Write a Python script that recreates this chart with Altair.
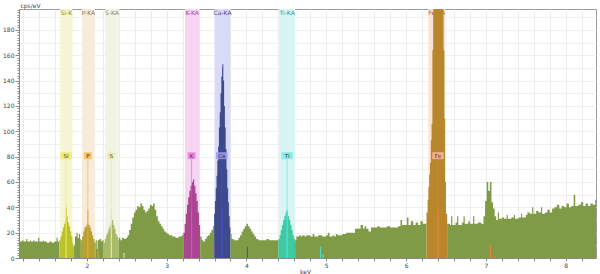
import altair as alt
import pandas as pd

# ---------------- data ----------------
# spectrum steps: start energy (keV) and count (cps/eV); last step ends at END_KEV
step_kev = [
    1.15, 1.165, 1.19, 1.205, 1.24, 1.255, 1.29, 1.30, 1.33, 1.345, 1.39, 1.405, 1.45, 1.46, 1.50, 1.53, 1.56, 1.59, 1.62, 1.635,
    1.655, 1.67, 1.685, 1.70, 1.715, 1.73, 1.74, 1.75, 1.76, 1.775, 1.79, 1.805, 1.82, 1.83,
    1.84, 1.85, 1.87, 1.885, 1.90, 1.915,
    1.925, 1.94, 1.955, 1.97, 1.985, 2.00, 2.02, 2.035, 2.05, 2.065, 2.08, 2.095,
    2.11, 2.125, 2.135, 2.16, 2.18, 2.195,
    2.21, 2.225, 2.24, 2.255, 2.27, 2.285, 2.30, 2.315, 2.33, 2.345, 2.36, 2.375, 2.39,
    2.40, 2.42, 2.44, 2.465, 2.49, 2.51, 2.53, 2.55, 2.57, 2.59, 2.61, 2.63, 2.65, 2.67, 2.69, 2.71, 2.73, 2.75,
    2.77, 2.79, 2.81, 2.83, 2.85, 2.87, 2.89, 2.91, 2.93, 2.95, 2.97, 2.99, 3.01, 3.03, 3.07, 3.11, 3.15, 3.19,
    3.21, 3.225, 3.24, 3.255, 3.27, 3.285, 3.30, 3.315, 3.33, 3.345, 3.36, 3.375, 3.39, 3.405,
    3.42, 3.44, 3.46, 3.48, 3.50, 3.52, 3.54, 3.56, 3.58,
    3.595, 3.605, 3.615, 3.625, 3.635, 3.645, 3.655, 3.665, 3.675, 3.685, 3.695, 3.70, 3.71, 3.72, 3.73, 3.74,
    3.75, 3.76, 3.77, 3.78, 3.79,
    3.80, 3.815, 3.84, 3.87, 3.90, 3.92, 3.94, 3.96, 3.98, 4.00, 4.02, 4.04, 4.06, 4.08, 4.10, 4.12, 4.15, 4.20,
    4.25, 4.28, 4.35,
    4.40, 4.415, 4.43, 4.445, 4.46, 4.475, 4.49, 4.505, 4.52, 4.535, 4.55, 4.565, 4.58, 4.595,
    4.61, 4.625, 4.66, 4.68, 4.70, 4.73, 4.75, 4.80, 4.83, 4.85, 4.90, 4.95, 5.00, 5.02, 5.04, 5.08, 5.10, 5.12,
    5.14, 5.20, 5.25, 5.30, 5.36, 5.40, 5.43, 5.46, 5.48, 5.50, 5.53, 5.56, 5.60, 5.64, 5.67, 5.72, 5.76, 5.80,
    5.85, 5.90, 5.93, 5.95, 5.98, 6.01, 6.03, 6.06, 6.09, 6.12, 6.15, 6.18, 6.21, 6.24,
    6.256, 6.27, 6.28, 6.29, 6.30, 6.31, 6.32, 6.33, 6.34, 6.35, 6.36, 6.37, 6.38, 6.39, 6.40, 6.41, 6.42, 6.43,
    6.44, 6.45, 6.46, 6.47, 6.48, 6.49, 6.50,
    6.515, 6.55, 6.565, 6.58, 6.62, 6.64, 6.655, 6.70, 6.72, 6.735, 6.78, 6.80, 6.84, 6.855, 6.90, 6.94, 6.97,
    6.99, 7.01, 7.03, 7.05, 7.07, 7.09, 7.11, 7.13, 7.15, 7.165, 7.20, 7.23, 7.26, 7.275, 7.32, 7.35, 7.365,
    7.41, 7.44, 7.455, 7.50, 7.52, 7.55, 7.58, 7.595, 7.63, 7.66, 7.69, 7.705, 7.74, 7.77, 7.80, 7.83, 7.86,
    7.89, 7.92, 7.95, 7.98, 8.01, 8.04, 8.07, 8.10, 8.12, 8.16, 8.19, 8.22, 8.25, 8.28, 8.31, 8.34, 8.37,
]
step_cps = [
    16, 13, 14, 13, 15, 13, 14, 13, 14, 13, 16, 13, 14, 13, 12, 13, 12, 13, 16, 13,
    14, 17, 21, 24, 27, 30, 40, 33, 28, 25, 21, 17, 12, 9,
    10, 17, 20, 16, 19, 15,
    14, 17, 21, 24, 25, 27, 26, 24, 21, 18, 15, 12,
    14, 7, 14, 15, 13, 14,
    12, 15, 18, 20, 23, 25, 27, 30, 26, 23, 19, 17, 14,
    16, 14, 16, 15, 16, 18, 22, 27, 32, 36, 38, 41, 40, 43, 41, 38, 36, 37,
    39, 42, 41, 43, 38, 33, 29, 27, 25, 23, 21, 20, 19, 18, 17, 16, 17, 18,
    20, 27, 35, 42, 48, 53, 57, 60, 62, 57, 51, 45, 36, 26,
    17, 14, 13, 15, 17, 18, 20, 22, 25,
    35, 45, 55, 65, 77, 88, 103, 115, 130, 143, 151, 153, 140, 120, 103, 86,
    70, 55, 44, 33, 24,
    19, 15, 14, 14, 16, 18, 21, 23, 25, 27, 25, 23, 21, 19, 17, 15, 14, 14,
    15, 14, 14,
    15, 18, 22, 26, 30, 33, 36, 37, 33, 30, 26, 22, 18, 15,
    14, 17, 18, 17, 18, 17, 18, 17, 19, 17, 18, 17, 18, 20, 17, 18, 17, 19,
    18, 19, 20, 20, 23, 23, 26, 23, 25, 23, 21, 24, 24, 25, 24, 24, 25, 24,
    24, 25, 30, 26, 26, 32, 26, 29, 26, 28, 26, 29, 27, 27,
    36, 46, 56, 66, 75, 93, 106, 164, 210, 240, 265, 285, 300, 310, 312, 305, 290, 270,
    250, 225, 200, 164, 110, 60, 35,
    27, 26, 33, 26, 28, 33, 26, 28, 33, 27, 29, 27, 33, 27, 28, 27, 33,
    45, 60, 53, 60, 44, 39, 33, 30, 36, 31, 32, 31, 34, 31, 32, 34, 31,
    32, 35, 32, 34, 36, 35, 40, 35, 37, 36, 40, 35, 36, 38, 36, 39, 40,
    42, 39, 41, 40, 43, 40, 41, 50, 41, 42, 44, 41, 43, 41, 43, 42, 46,
]
END_KEV = 8.39

# regions of interest
roi_elem = ["Si", "P", "S", "K", "Ca", "Ti", "Fe"]
roi_name = ["Si-K", "P-KA", "S-KA", "K-KA", "Ca-KA", "Ti-KA", "Fe-KA"]
roi_lo = [1.655, 1.925, 2.21, 3.21, 3.595, 4.40, 6.256]      # coloured part of spectrum
roi_hi = [1.84, 2.11, 2.40, 3.42, 3.80, 4.61, 6.515]
band_lo = [1.665, 1.94, 2.23, 3.23, 3.60, 4.41, 6.28]         # light background bands
band_hi = [1.82, 2.10, 2.40, 3.41, 3.80, 4.61, 6.49]
line_kev = [1.740, 2.013, 2.307, 3.313, 3.691, 4.510, 6.400]  # K-alpha marker lines

# K-beta marker lines
kb_elem = ["P", "S", "K", "Ca", "Ti", "Ti", "Fe", "Fe"]
kb_kev = [2.14, 2.465, 3.59, 4.012, 4.93, 4.96, 7.058, 7.11]
kb_cps = [6, 4, 10, 9, 9, 3, 10, 1.5]

# colours
bg_color = "#809b45"
bar_color = ["#b9c22c", "#b3a332", "#a8ba68", "#aa4590", "#3d4b8c", "#43c9a2", "#b8862b"]
band_color = ["#f5f5d6", "#f7ecd9", "#f2f3e4", "#f5d5f2", "#dadaf6", "#d8f4f4", "#fbe2d4"]
box_color = ["#f2ea6a", "#f5c462", "#f0ebb4", "#ef7fe9", "#9a9af2", "#85eaea", "#f7b49a"]
line_color = ["#e9e34f", "#f2a235", "#e6e6b0", "#e445e4", "#4545f2", "#45e5e5", "#f0803f"]
text_color = ["#8a8a3a", "#8f7a4a", "#8a8a60", "#a04aa0", "#4a4a90", "#3a8f8f", "#a06040"]

# ---------------- build tables ----------------
ends = step_kev[1:] + [END_KEV]
regs = []
for a, b in zip(step_kev, ends):
    mid = (a + b) / 2
    reg = "bg"
    for el, lo, hi in zip(roi_elem, roi_lo, roi_hi):
        if lo <= mid < hi:
            reg = el
    regs.append(reg)

# step-after area points: one point per step start, plus the end of every coloured segment
rows = []
seg = 0
for i, (a, b, v, r) in enumerate(zip(step_kev, ends, step_cps, regs)):
    if i == 0 or r != regs[i - 1]:
        seg += 1
    rows.append({"e": a, "c": v, "reg": r, "seg": seg})
    if i == len(regs) - 1 or regs[i + 1] != r:
        rows.append({"e": b, "c": v, "reg": r, "seg": seg})
spec = pd.DataFrame(rows)

roi = pd.DataFrame({
    "el": roi_elem, "name": roi_name, "lo": band_lo, "hi": band_hi,
    "mid": [(a + b) / 2 for a, b in zip(band_lo, band_hi)], "line": line_kev,
})
roi["half"] = [0.028 + 0.022 * len(s) for s in roi_elem]
roi["bx0"] = roi["line"] - roi["half"]
roi["bx1"] = roi["line"] + roi["half"]
kb = pd.DataFrame({"el": kb_elem, "e": kb_kev, "c": kb_cps})

W, H = 577, 249
xs = alt.Scale(domain=[1.15, 8.38], nice=False, zero=False)
ys = alt.Scale(domain=[0, 196.5], nice=False, zero=True)
FONT = "DejaVu Sans"

x_ticks = [round(1.2 + 0.2 * k, 1) for k in range(37)]
y_ticks = list(range(0, 197, 2))

xaxis = alt.Axis(
    values=x_ticks, tickCount=500, labelOverlap=False,
    labelExpr="abs(datum.value - round(datum.value)) < 0.001 ? format(datum.value, 'd') : ''",
    grid=True, gridColor="#ececec", gridWidth=1,
    tickSize=3, tickColor="#888", domainColor="#888",
    labelFont=FONT, labelFontSize=6, labelColor="#444", labelPadding=1,
    title="keV", titleFont=FONT, titleFontSize=6, titleFontWeight="normal", titleColor="#444",
    titleX=286, titleY=13, titleAlign="center", titleBaseline="middle",
)
yaxis = alt.Axis(
    values=y_ticks, tickCount=500, labelOverlap=False,
    labelExpr="datum.value % 20 === 0 ? format(datum.value, 'd') : ''",
    grid=True, gridColor="#f0f0f0",
    gridOpacity={"condition": {"test": "datum.value % 10 === 0", "value": 1}, "value": 0},
    tickSize={"condition": {"test": "datum.value % 20 === 0", "value": 4}, "value": 2},
    tickColor="#888", domainColor="#888",
    labelFont=FONT, labelFontSize=6, labelColor="#444", labelPadding=1,
    title="cps/eV", titleFont=FONT, titleFontSize=6, titleFontWeight="normal", titleColor="#444",
    titleAngle=0, titleX=1, titleY=-4, titleAlign="left", titleBaseline="middle",
)

band_scale = alt.Scale(domain=roi_elem, range=band_color)
lcol = alt.Scale(domain=roi_elem, range=line_color)
spec_scale = alt.Scale(domain=["bg"] + roi_elem, range=[bg_color] + bar_color)

base_roi = alt.Chart(roi).transform_calculate(
    z0="0", ztop="79", zmain="38", by0="78", by1="83.5", ty="80.8"
)

bands = alt.Chart(roi).mark_rect().encode(
    x=alt.X("lo:Q", scale=xs, axis=xaxis),
    x2="hi:Q",
    color=alt.Color("el:N", scale=band_scale, legend=None),
)

top_labels = alt.Chart(roi).mark_text(font=FONT, fontSize=6, baseline="middle").encode(
    x=alt.X("mid:Q", scale=xs),
    y=alt.value(4),
    text="name:N",
    color=alt.Color("el:N", scale=alt.Scale(domain=roi_elem, range=text_color), legend=None),
)

area = alt.Chart(spec).mark_area(clip=True, interpolate="step-after").encode(
    x=alt.X("e:Q", scale=xs),
    y=alt.Y("c:Q", scale=ys, stack=None, axis=yaxis),
    detail="seg:N",
    color=alt.Color("reg:N", scale=spec_scale, legend=None),
)

label_lines = base_roi.mark_rule(strokeWidth=1, opacity=0.55).encode(
    x=alt.X("line:Q", scale=xs),
    y=alt.Y("z0:Q", scale=ys),
    y2="ztop:Q",
    color=alt.Color("el:N", scale=lcol, legend=None),
)
main_lines = base_roi.mark_rule(strokeWidth=1).encode(
    x=alt.X("line:Q", scale=xs),
    y=alt.Y("z0:Q", scale=ys),
    y2="zmain:Q",
    color=alt.Color("el:N", scale=lcol, legend=None),
)
kb_lines = alt.Chart(kb).transform_calculate(z0="0").mark_rule(strokeWidth=1).encode(
    x=alt.X("e:Q", scale=xs),
    y=alt.Y("z0:Q", scale=ys),
    y2="c:Q",
    color=alt.Color("el:N", scale=lcol, legend=None),
)
boxes = base_roi.mark_rect(opacity=0.9).encode(
    x=alt.X("bx0:Q", scale=xs),
    x2="bx1:Q",
    y=alt.Y("by0:Q", scale=ys),
    y2="by1:Q",
    color=alt.Color("el:N", scale=alt.Scale(domain=roi_elem, range=box_color), legend=None),
)
box_text = base_roi.mark_text(font=FONT, fontSize=5.5, baseline="middle", color="#333").encode(
    x=alt.X("line:Q", scale=xs),
    y=alt.Y("ty:Q", scale=ys),
    text="el:N",
)

chart = alt.layer(
    bands, top_labels, area, label_lines, main_lines, kb_lines, boxes, box_text
).resolve_scale(color="independent").properties(
    width=W, height=H,
    autosize=alt.AutoSizeParams(type="none"),
    padding={"left": 19, "top": 9, "right": 4, "bottom": 16},
    background="white",
).configure_view(stroke="#9a9a9a", strokeWidth=1)

chart.save("out.html", embed_options={"renderer": "svg", "actions": False})
